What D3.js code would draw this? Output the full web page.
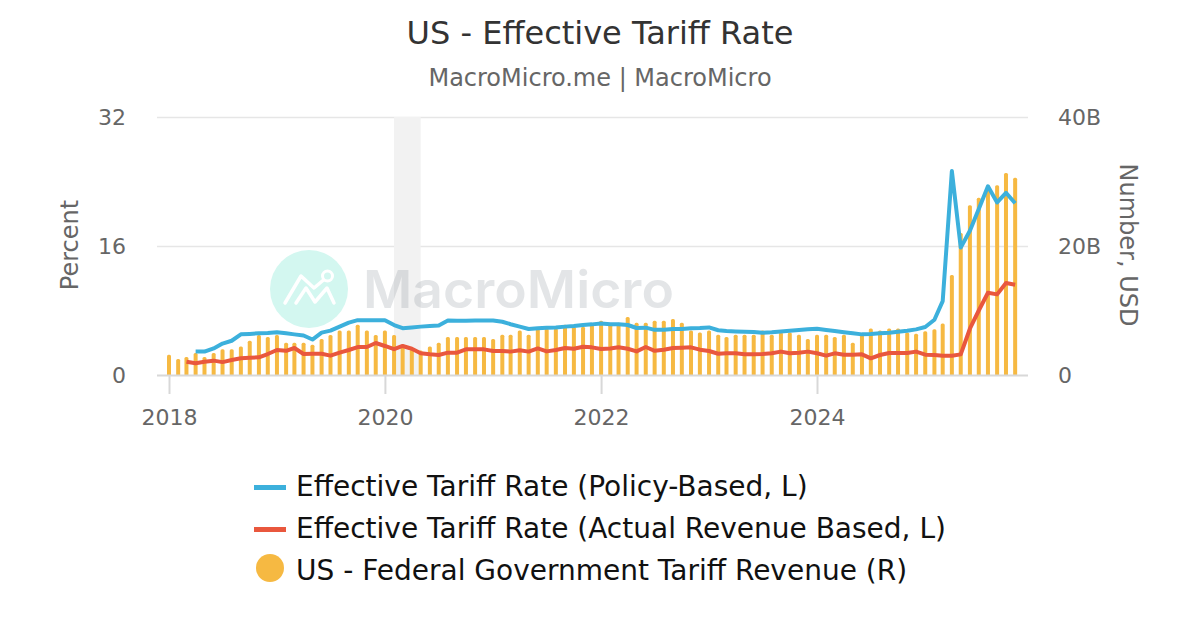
<!DOCTYPE html>
<html>
<head>
<meta charset="utf-8">
<script src="https://cdn.jsdelivr.net/npm/d3@7"></script>
<style>
  html, body { margin: 0; padding: 0; background: #fff; }
  svg { display: block; font-family: "DejaVu Sans", sans-serif; }
</style>
</head>
<body>
<script>
// monthly values from Jan 2018, null where the series has not started
var startYear = 2018;
var policyRate = [null, null, null, 2.9, 2.9, 3.3, 3.9, 4.25, 5.04, 5.1, 5.17, 5.2, 5.3, 5.17, 5.04, 4.9, 4.4, 5.25, 5.5, 6.0, 6.5, 6.8, 6.8, 6.8, 6.8, 6.2, 5.8, 5.9, 6.0, 6.07, 6.15, 6.75, 6.72, 6.72, 6.75, 6.75, 6.75, 6.6, 6.3, 6.0, 5.7, 5.8, 5.87, 5.9, 6.0, 6.07, 6.2, 6.28, 6.4, 6.3, 6.28, 6.2, 5.83, 5.87, 5.6, 5.6, 5.7, 5.7, 5.8, 5.83, 5.9, 5.55, 5.45, 5.4, 5.37, 5.33, 5.25, 5.3, 5.4, 5.5, 5.58, 5.66, 5.74, 5.58, 5.45, 5.3, 5.17, 5.04, 5.08, 5.17, 5.25, 5.37, 5.5, 5.66, 5.95, 6.86, 9.17, 25.3, 15.8, 17.9, 20.6, 23.4, 21.4, 22.6, 21.3];
var actualRate = [null, null, 1.65, 1.45, 1.65, 1.78, 1.6, 1.86, 2.07, 2.15, 2.19, 2.6, 3.1, 3.0, 3.35, 2.6, 2.64, 2.64, 2.4, 2.77, 3.1, 3.47, 3.47, 3.97, 3.6, 3.2, 3.6, 3.26, 2.69, 2.56, 2.48, 2.77, 2.77, 3.18, 3.18, 3.18, 2.98, 2.98, 2.9, 3.06, 2.9, 3.3, 2.93, 3.1, 3.35, 3.26, 3.5, 3.43, 3.22, 3.3, 3.43, 3.26, 2.93, 3.47, 3.0, 3.14, 3.35, 3.39, 3.43, 3.14, 2.98, 2.64, 2.69, 2.69, 2.56, 2.56, 2.6, 2.69, 2.9, 2.69, 2.77, 2.9, 2.69, 2.4, 2.69, 2.52, 2.52, 2.56, 2.07, 2.48, 2.73, 2.73, 2.73, 2.9, 2.52, 2.48, 2.4, 2.4, 2.56, 5.74, 8.0, 10.2, 10.0, 11.4, 11.2];
var revenue = [3.15, 2.5, 2.8, 3.4, 2.8, 3.4, 4.0, 4.0, 4.4, 5.3, 6.2, 5.9, 6.2, 5.0, 5.0, 5.0, 4.7, 5.6, 6.2, 6.9, 6.9, 7.8, 6.9, 6.2, 6.9, 6.2, 4.4, 3.9, 3.8, 4.4, 5.0, 5.9, 5.9, 5.9, 5.9, 5.9, 5.6, 6.25, 6.25, 6.9, 6.25, 7.2, 7.2, 7.2, 7.8, 7.5, 7.5, 7.8, 8.4, 7.8, 8.1, 9.0, 8.1, 8.1, 8.4, 8.4, 8.7, 8.1, 6.9, 6.6, 6.9, 6.25, 5.9, 6.25, 6.25, 6.25, 6.9, 6.25, 6.6, 6.6, 6.25, 5.6, 6.25, 6.25, 5.9, 6.25, 5.0, 6.25, 7.2, 6.9, 7.2, 7.2, 6.6, 6.4, 6.8, 7.1, 8.0, 15.5, 22.0, 26.3, 27.5, 29.4, 29.4, 31.3, 30.6];
var leftTicks = [0, 16, 32];
var rightTicks = [0, 20, 40];
var yearTicks = [2018, 2020, 2022, 2024];
var legendNames = ["Effective Tariff Rate (Policy-Based, L)", "Effective Tariff Rate (Actual Revenue Based, L)", "US - Federal Government Tariff Revenue (R)"];
var bandDates = [new Date(Date.UTC(2020, 1, 1)), new Date(Date.UTC(2020, 4, 1))];

var blue = "#3cb0dc", red = "#e9573d", gold = "#f6b942";
var top_ = 117, bottom = 375, left = 157, right = 1028;
var fontName = "'DejaVu Sans', sans-serif";

var svg = d3.select("body").append("svg").attr("width", 1200).attr("height", 630);

var x = d3.scaleUtc()
  .domain([new Date(Date.UTC(2018, 0, 1)), new Date(Date.UTC(2024, 0, 1))])
  .range([169, 817]);
var yL = d3.scaleLinear().domain([0, 32]).range([bottom, top_]);
var yR = d3.scaleLinear().domain([0, 40]).range([bottom, top_]);
var month = function (i) { return new Date(Date.UTC(startYear, i, 1)); };

// title
svg.append("text").attr("x", 600).attr("y", 44).attr("text-anchor", "middle")
  .attr("font-size", 32).attr("fill", "#333").text("US - Effective Tariff Rate");
svg.append("text").attr("x", 600).attr("y", 86).attr("text-anchor", "middle")
  .attr("font-size", 24).attr("fill", "#666").text("MacroMicro.me | MacroMicro");

// grid first, then the shaded period
var gridG = svg.append("g").attr("transform", "translate(" + left + ",0)")
  .call(d3.axisRight(yL).tickValues(leftTicks.slice(1)).tickSize(right - left).tickFormat(""));
gridG.select(".domain").remove();
gridG.selectAll("line").attr("stroke", "#e6e6e6").attr("stroke-width", 1.5);

svg.append("rect").attr("x", x(bandDates[0])).attr("y", top_)
  .attr("width", x(bandDates[1]) - x(bandDates[0])).attr("height", bottom - top_)
  .attr("fill", "#f2f2f2");

// watermark
var mark = svg.append("g");
mark.append("circle").attr("cx", 309).attr("cy", 289).attr("r", 39).attr("fill", "#d3f7f0");
mark.append("path").attr("d", "M285,303 L301,276 L314,288 L323.5,280 M296,303 L306,288 L315,302 L327,288 L334,303")
  .attr("fill", "none").attr("stroke", "#fff").attr("stroke-width", 3.5)
  .attr("stroke-linecap", "round").attr("stroke-linejoin", "round");
mark.append("circle").attr("cx", 327.5).attr("cy", 276).attr("r", 5)
  .attr("fill", "none").attr("stroke", "#fff").attr("stroke-width", 3);
mark.append("text").attr("x", 363).attr("y", 308).attr("font-family", "Inter, sans-serif")
  .attr("font-size", 52).attr("font-weight", 600).attr("fill", "#757b85").attr("fill-opacity", 0.2)
  .attr("textLength", 311).attr("lengthAdjust", "spacingAndGlyphs").text("MacroMicro");

// revenue bars on the right axis
var barW = 4;
svg.append("g").selectAll("rect").data(revenue).join("rect")
  .attr("x", function (d, i) { return x(month(i)) - barW / 2; })
  .attr("y", function (d) { return yR(d); })
  .attr("width", barW)
  .attr("height", function (d) { return bottom - yR(d) + 1; })
  .attr("rx", 1.5)
  .attr("fill", gold);

// bottom axis
var xAxis = svg.append("g").attr("transform", "translate(0," + bottom + ")")
  .call(d3.axisBottom(x)
    .tickValues(yearTicks.map(function (y) { return new Date(Date.UTC(y, 0, 1)); }))
    .tickFormat(d3.utcFormat("%Y")).tickSize(19).tickPadding(15).tickSizeOuter(0));
xAxis.select(".domain").attr("d", "M" + left + ",0.5H" + right).attr("stroke", "#d8d8d8").attr("stroke-width", 2);
xAxis.selectAll("line").attr("stroke", "#d8d8d8").attr("stroke-width", 2);
xAxis.attr("font-family", fontName);
xAxis.selectAll("text").attr("font-size", 22).attr("fill", "#666");

// lines
var line = function (scale) {
  return d3.line()
    .defined(function (d) { return d !== null; })
    .x(function (d, i) { return x(month(i)); })
    .y(function (d) { return scale(d); });
};
svg.append("path").attr("d", line(yL)(policyRate)).attr("fill", "none")
  .attr("stroke", blue).attr("stroke-width", 4).attr("stroke-linejoin", "round");
svg.append("path").attr("d", line(yL)(actualRate)).attr("fill", "none")
  .attr("stroke", red).attr("stroke-width", 4).attr("stroke-linejoin", "round");

// y axes
var leftAxis = svg.append("g").attr("transform", "translate(126,0)")
  .call(d3.axisLeft(yL).tickValues(leftTicks).tickSize(0).tickPadding(0));
var rightAxis = svg.append("g").attr("transform", "translate(1058,0)")
  .call(d3.axisRight(yR).tickValues(rightTicks).tickSize(0).tickPadding(0)
    .tickFormat(function (d) { return d === 0 ? "0" : d + "B"; }));
[leftAxis, rightAxis].forEach(function (g) {
  g.attr("font-family", fontName);
  g.select(".domain").remove();
  g.selectAll("text").attr("font-size", 22).attr("fill", "#666");
});

svg.append("text").attr("transform", "translate(78,245) rotate(-90)").attr("text-anchor", "middle")
  .attr("font-size", 24).attr("fill", "#666").text("Percent");
svg.append("text").attr("transform", "translate(1120,245) rotate(90)").attr("text-anchor", "middle")
  .attr("font-size", 24).attr("fill", "#666").text("Number, USD");

// legend
var legend = svg.append("g").selectAll("g").data(legendNames).join("g")
  .attr("transform", function (d, i) { return "translate(254," + (486 + i * 42) + ")"; });
legend.append("text").attr("x", 42).attr("dy", "0.35em").attr("font-size", 28).attr("fill", "#111")
  .text(function (d) { return d; });
legend.filter(function (d, i) { return i < 2; }).append("rect")
  .attr("y", -1).attr("width", 32).attr("height", 5)
  .attr("fill", function (d, i) { return i === 0 ? blue : red; });
legend.filter(function (d, i) { return i === 2; }).append("circle")
  .attr("cx", 16).attr("cy", -2).attr("r", 14).attr("fill", gold);
</script>
</body>
</html>
